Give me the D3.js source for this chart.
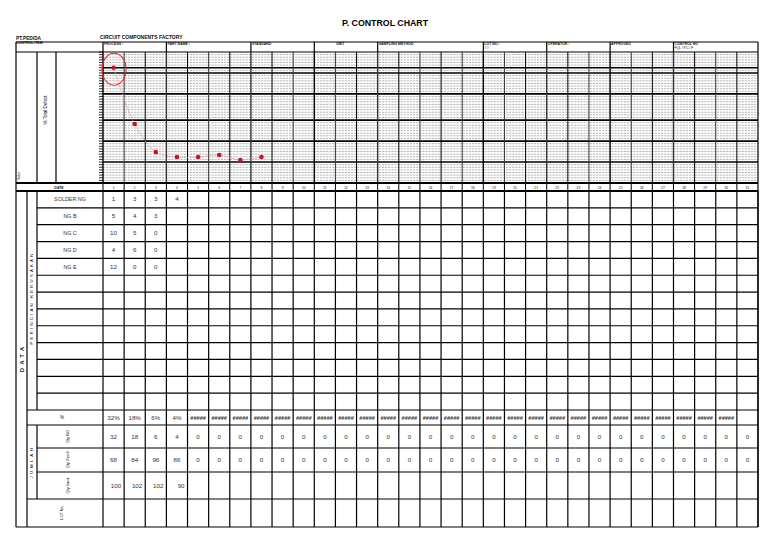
<!DOCTYPE html>
<html>
<head>
<meta charset="utf-8">
<script src="https://cdn.jsdelivr.net/npm/d3@7/dist/d3.min.js"></script>
<style>
  body { margin: 0; background: #fff; }
  svg { display: block; }
  text { font-family: "Liberation Sans", Arial, sans-serif; }
</style>
</head>
<body>
<svg id="chart" width="768" height="542"></svg>
<script>
// ---- data ----
const days = [1, 2, 3, 4, 5, 6, 7, 8, 9, 10, 11, 12, 13, 14, 15, 16, 17, 18, 19, 20, 21, 22, 23, 24, 25, 26, 27, 28, 29, 30, 31];
const defectTypes = ["SOLDER NG", "NG B", "NG C", "NG D", "NG E"];
const solderNg = [1, 3, 3, 4];
const ngB = [5, 4, 3];
const ngC = [10, 5, 0];
const ngD = [4, 6, 0];
const ngE = [12, 0, 0];
const percentLabels = ["32%", "18%", "6%", "4%", "#####", "#####", "#####", "#####", "#####", "#####",
  "#####", "#####", "#####", "#####", "#####", "#####", "#####", "#####", "#####", "#####",
  "#####", "#####", "#####", "#####", "#####", "#####", "#####", "#####", "#####", "#####"];
const qtyNg = [32, 18, 6, 4, 0, 0, 0, 0, 0, 0, 0, 0, 0, 0, 0, 0, 0, 0, 0, 0, 0, 0, 0, 0, 0, 0, 0, 0, 0, 0, 0];
const qtyGood = [68, 84, 96, 86, 0, 0, 0, 0, 0, 0, 0, 0, 0, 0, 0, 0, 0, 0, 0, 0, 0, 0, 0, 0, 0, 0, 0, 0, 0, 0, 0];
const qtyInput = [100, 102, 102, 90];
// plotted % points, in chart grid units (0 = bottom, 50 = top)
const plotValues = [44.0, 22.5, 11.8, 9.9, 9.9, 10.7, 8.8, 9.9];
const majorGrid = [8, 16, 24, 34, 42, 44];
const headerLabels = ["PROCESS :", "PART NAME :", "STANDARD", "UNIT", "SAMPLING METHOD", "LOT NO.:", "OPERATOR :", "APPROVED", "CONTROL NO"];
const headerSub = ["", "", "", "", "", "#  #", "", "", "FQL / P.C / F"];
const headerStart = [0, 3, 7, 10, 13, 18, 21, 24, 27];

// ---- layout ----
const L = 16, R = 758;
const colL1 = 27, colL2 = 37, colL3 = 56, gridL = 103;
const headTop = 42, chartTop = 52, chartBot = 183, dateBot = 191;
const rowsBot = 410, pctBot = 425, ngBot = 448, goodBot = 472, inputBot = 499, tableBot = 527;

const svg = d3.select("#chart");
const x = d3.scaleBand().domain(days).range([gridL, R]);
const y = d3.scaleLinear().domain([0, 50]).range([chartBot, chartTop]);
const rowY = d3.scaleBand().domain(d3.range(13)).range([dateBot, rowsBot]);

const line = (x1, y1, x2, y2, w = 1.2, c = "#000") =>
  svg.append("line").attr("x1", x1).attr("y1", y1).attr("x2", x2).attr("y2", y2)
    .attr("stroke", c).attr("stroke-width", w);
const label = (tx, ty, str, size, opts = {}) => {
  const t = svg.append("text").attr("x", tx).attr("y", ty).text(str)
    .attr("font-size", size).attr("fill", opts.fill || "#111")
    .attr("text-anchor", opts.anchor || "start")
    .attr("font-weight", opts.bold ? "bold" : "normal");
  if (opts.rotate) t.attr("transform", `rotate(-90,${tx},${ty})`).attr("dominant-baseline", "middle");
  if (opts.spacing) t.attr("letter-spacing", opts.spacing);
  return t;
};
const edge = i => gridL + i * x.step();
const mid = d => x(d) + x.bandwidth() / 2;

// ---- titles ----
label(385, 26, "P. CONTROL  CHART", 8.8, { anchor: "middle", bold: true, fill: "#000" });
label(L, 40, "PT.PEDIDA", 4.8, { bold: true });
label(L, 44.4, "CONTROL  ITEM", 3.5, { bold: true });
label(100, 39, "CIRCUIT COMPONENTS FACTORY", 5, { bold: true });

// ---- header row ----
line(L, headTop, R, headTop, 1.2);
line(L, chartTop, R, chartTop, 1.2);
headerLabels.forEach((h, i) => {
  const hx = edge(headerStart[i]);
  line(hx, headTop, hx, chartTop, 1.2);
  const tx = h === "UNIT" ? hx + 22 : hx + 1;
  label(tx, 45.2, h, 3.5, { bold: true });
  if (headerSub[i]) label(hx + 1, 48.8, headerSub[i], 3.3);
});

// ---- chart grid ----
d3.range(0, 51).forEach(v => {
  const major = majorGrid.includes(v);
  if (v > 0 && v < 50) {
    svg.append("line").attr("x1", gridL).attr("x2", R).attr("y1", y(v)).attr("y2", y(v))
      .attr("stroke", major ? "#000" : "#6a6a6a")
      .attr("stroke-width", major ? 1.6 : 0.5)
      .attr("stroke-dasharray", major ? null : "2.2,0.9");
  }
  line(gridL - 4, y(v), gridL, y(v), 0.8);
});
days.forEach((d, i) => {
  line(edge(i), chartTop, edge(i), chartBot, headerStart.includes(i) ? 1.4 : 1.0, i % 2 ? "#333" : "#000");
});
line(colL2, chartTop, colL2, chartBot, 1.2);
line(colL3, chartTop, colL3, chartBot, 1.2);
label(46, 110, "% Total Defect", 4.5, { rotate: true, anchor: "middle", fill: "#000" });
label(19, 175, "Value :", 3.3, { rotate: true, anchor: "middle" });

// ---- plotted points ----
const pts = plotValues.map((v, i) => [mid(days[i]), y(v)]);
svg.append("path").datum(pts)
  .attr("d", d3.line().curve(d3.curveCatmullRom.alpha(0.5)))
  .attr("fill", "none").attr("stroke", "#e88e98").attr("stroke-width", 0.9)
  .attr("stroke-dasharray", "1.5,1");
svg.selectAll(".pt").data(pts).enter().append("circle")
  .attr("class", "pt").attr("cx", d => d[0]).attr("cy", d => d[1]).attr("r", 2.3)
  .attr("fill", "#c4142c");
svg.append("ellipse").attr("cx", pts[0][0] + 0.5).attr("cy", pts[0][1] + 1.5)
  .attr("rx", 12).attr("ry", 16).attr("fill", "none")
  .attr("stroke", "#e02a2a").attr("stroke-width", 1.1);

// ---- date row ----
line(L, chartBot, R, chartBot, 2.2);
line(L, dateBot, R, dateBot, 2.2);
label(59, 188.5, "DATE", 3.5, { anchor: "middle", bold: true });
days.forEach((d, i) => {
  line(edge(i), chartBot, edge(i), dateBot, 1);
  label(mid(d), 188.5, d, 3.3, { anchor: "middle" });
});

// ---- data table frame ----
d3.range(0, 32).forEach(i => line(edge(i), dateBot, edge(i), tableBot));
rowY.domain().slice(1).forEach(r => line(colL2, rowY(r), R, rowY(r)));
line(colL1, rowsBot, R, rowsBot);
line(colL1, pctBot, R, pctBot);
line(colL2, ngBot, R, ngBot);
line(colL2, goodBot, R, goodBot);
line(colL1, inputBot, R, inputBot);
line(L, tableBot, R, tableBot);
line(L, headTop, L, tableBot);
line(R, headTop, R, tableBot);
line(colL1, dateBot, colL1, tableBot);
line(colL2, dateBot, colL2, rowsBot);
line(colL2, pctBot, colL2, inputBot);

label(22, 358, "DATA", 6, { rotate: true, anchor: "middle", bold: true, spacing: 3.2 });
label(32, 298, "PERINCIAN   KERUSAKAN", 4.3, { rotate: true, anchor: "middle", spacing: 2.2, fill: "#000" });
label(32, 462, "JUMLAH", 4.3, { rotate: true, anchor: "middle", spacing: 2.6, fill: "#000" });

// defect rows
const defectRows = [solderNg, ngB, ngC, ngD, ngE];
defectRows.forEach((vals, r) => {
  const cy = rowY(r) + rowY.bandwidth() / 2 + 2;
  label(70, cy, defectTypes[r], 5.4, { anchor: "middle", fill: "#333" });
  vals.forEach((v, i) => label(mid(days[i]), cy, v, 6.2, { anchor: "middle", fill: "#333" }));
});

// percent row
label(62, 419, "%", 4.5, { anchor: "middle" });
percentLabels.forEach((p, i) => {
  const isHash = p.startsWith("#");
  label(mid(days[i]), 419.5, p, isHash ? 5.6 : 6.2,
    { anchor: "middle", bold: isHash, fill: "#333" });
});

// totals
label(68, (pctBot + ngBot) / 2, "Qty NG", 3.9, { rotate: true, anchor: "middle" });
label(68, (ngBot + goodBot) / 2, "Qty Good", 3.9, { rotate: true, anchor: "middle" });
label(68, (goodBot + inputBot) / 2, "Qty Input", 3.9, { rotate: true, anchor: "middle" });
label(62, (inputBot + tableBot) / 2, "LOT No", 3.9, { rotate: true, anchor: "middle" });
qtyNg.forEach((v, i) => label(mid(days[i]), (pctBot + ngBot) / 2 + 2, v, 6.2, { anchor: "middle", fill: "#333" }));
qtyGood.forEach((v, i) => label(mid(days[i]), (ngBot + goodBot) / 2 + 2, v, 6.2, { anchor: "middle", fill: "#333" }));
qtyInput.forEach((v, i) => label(x(days[i]) + x.bandwidth() - 3, (goodBot + inputBot) / 2 + 2, v, 6.2, { anchor: "end", fill: "#333" }));
</script>
</body>
</html>
